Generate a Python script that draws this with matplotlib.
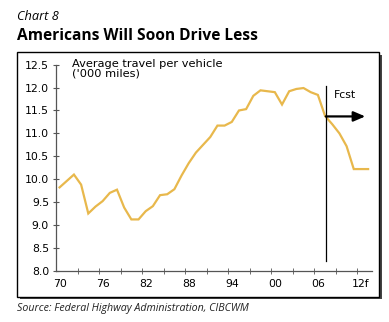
import matplotlib
matplotlib.use("Agg")
import matplotlib.pyplot as plt
from matplotlib.patches import Rectangle

# average travel per vehicle, '000 miles, 1970-2013 (2008 onward forecast)
years = list(range(1970, 2014))
travel = [9.82, 9.96, 10.10, 9.88, 9.25, 9.40, 9.52, 9.70, 9.77, 9.38,
          9.12, 9.12, 9.30, 9.41, 9.65, 9.67, 9.78, 10.08, 10.35, 10.58,
          10.75, 10.92, 11.17, 11.17, 11.25, 11.50, 11.53, 11.82, 11.94, 11.92,
          11.90, 11.63, 11.92, 11.97, 11.99, 11.90, 11.84, 11.38, 11.20, 11.00,
          10.72, 10.22, 10.22, 10.22]
tick_labels = ["70", "76", "82", "88", "94", "00", "06", "12f"]
y_ticks = [8.0, 8.5, 9.0, 9.5, 10.0, 10.5, 11.0, 11.5, 12.0, 12.5]
fcst_year = 2007

W, H = 389, 322
fig = plt.figure(figsize=(W / 100, H / 100), dpi=100)

# frame with drop shadow
fig.add_artist(Rectangle((19.5 / W, 1 - 299 / H), 362 / W, 244 / H, transform=fig.transFigure,
                         facecolor="#444444", edgecolor="none", zorder=0))
fig.add_artist(Rectangle((17 / W, 1 - 297 / H), 362 / W, 245 / H, transform=fig.transFigure,
                         facecolor="white", edgecolor="black", linewidth=1.0, zorder=1))

fig.text(17 / W, 1 - 17 / H, "Chart 8", fontsize=9.2, style="italic", family="Open Sans",
         va="center", ha="left")
fig.text(17 / W, 1 - 36 / H, "Americans Will Soon Drive Less", fontsize=11.2, weight="bold",
         family="Open Sans", va="center", ha="left")
fig.text(17 / W, 1 - 308 / H, "Source: Federal Highway Administration, CIBCWM", fontsize=7.7,
         style="italic", family="Open Sans", va="center", ha="left", color="#222222")

ax = fig.add_axes([56 / W, 1 - 270.7 / H, 315.7 / W, 206 / H], zorder=2)
ax.patch.set_alpha(0)
x = [y - years[0] for y in years]
ax.plot(x, travel, color="#E8B84C", linewidth=1.6, solid_joinstyle="miter")

ax.set_xlim(-0.5, len(years) - 0.5)
ax.set_ylim(8.0, 12.5)
ax.set_xticks(range(0, len(years), 6))
ax.set_xticklabels(tick_labels)
ax.set_xticks([-0.5 + 3 * k for k in range(1, 15)], minor=True)
ax.tick_params(axis="x", which="major", length=0, pad=6, labelsize=7.8)
ax.tick_params(axis="x", which="minor", length=5, direction="inout", color="#555555")
ax.set_yticks(y_ticks)
ax.set_yticklabels(["%.1f" % v for v in y_ticks])
ax.tick_params(axis="y", length=4, direction="inout", color="#555555", labelsize=7.8, pad=3)

for s in ["top", "right"]:
    ax.spines[s].set_visible(False)
for s in ["left", "bottom"]:
    ax.spines[s].set_color("#555555")
    ax.spines[s].set_linewidth(0.9)

fx = fcst_year - years[0] + 0.1
ax.plot([fx, fx], [8.22, 12.04], color="black", linewidth=0.9)
ax.annotate("", xy=(42.6, 11.37), xytext=(fx, 11.37),
            arrowprops=dict(arrowstyle="-|>,head_length=0.7,head_width=0.3", color="black",
                            linewidth=1.6, shrinkA=0, shrinkB=0))
ax.text(38.2, 11.84, "Fcst", fontsize=7.8, va="center", ha="left")
ax.text(0.05, 1.028, "Average travel per vehicle\n('000 miles)", transform=ax.transAxes,
        fontsize=8.2, va="top", ha="left", linespacing=1.0, clip_on=False)

fig.savefig("out.png", dpi=100)
